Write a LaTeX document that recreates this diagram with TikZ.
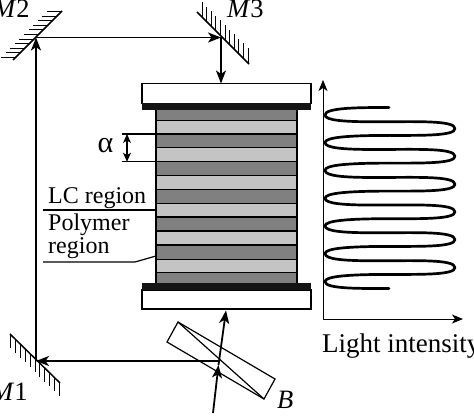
\documentclass[tikz,border=0pt]{standalone}
\usepackage{fontspec}
\setmainfont{Liberation Serif}
\usetikzlibrary{arrows.meta}
\tikzset{
  ray/.style={line width=1.8pt,-{Stealth[length=13pt,width=10pt,inset=3.5pt]}},
  mirrorline/.style={line width=1.5pt},
  hatch/.style={line width=1pt},
  plate/.style={draw=black,line width=1.1pt,fill=white},
  blackbar/.style={fill=black!92},
  darkband/.style={fill=black!50},
  lightband/.style={fill=black!23},
  sep/.style={line width=1.1pt},
  thin line/.style={line width=1.2pt},
  lab/.style={font=\fontsize{24}{24}\selectfont,inner sep=0pt,anchor=base west},
  mlab/.style={lab,font=\fontsize{26.5}{27}\selectfont},
  axisline/.style={line width=1pt,-{Stealth[length=11pt,width=9pt,inset=3pt]}},
  curveline/.style={line width=2.7pt,line cap=round,line join=round},
}
\newcommand{\rdown}[1]{.. controls (325,#1+5.5) and (345,#1+6.8) .. (375,#1+6.8) .. controls (415,#1+6.8) and (455,#1+5) .. (455,#1+13.6) }
\newcommand{\rup}[1]{.. controls (455,#1+7.5) and (420,#1+6.8) .. (390,#1+6.8) .. controls (350,#1+6.8) and (325,#1+8.5) .. (325,#1+14) }
\begin{document}
\begin{tikzpicture}[x=1pt,y=-1pt]
\path[use as bounding box,clip] (0,0) rectangle (474,417);
\fill[white] (0,0) rectangle (474,417);
% named points
\coordinate (m1) at (36,361);
\coordinate (m2) at (36,37.5);
\coordinate (m3) at (221,37.5);
\coordinate (bs) at (220,361);
% plates and stripes
\node[plate,minimum width=169pt,minimum height=20pt,inner sep=0pt] (topplate) at (226.5,93.5) {};
\node[plate,minimum width=169pt,minimum height=19pt,inner sep=0pt] (botplate) at (226.5,299.5) {};
\fill[blackbar] (142,103.5) rectangle (311,110);
\fill[blackbar] (142,283) rectangle (311,290);
\fill[darkband] (156,110) rectangle (297,283);
\foreach \a/\b in {120.7/134,147.7/161.7,175.7/189.3,203.3/217,231/245,259.3/272.7}
  \fill[lightband] (156,\a) rectangle (297,\b);
\foreach \a in {120.7,134,147.7,161.7,175.7,189.3,203.3,217,231,245,259.3,272.7}
  \draw[sep] (156,\a) -- (297,\a);
\draw[sep] (156,110) -- (156,283);
\draw[sep] (297,110) -- (297,283);
% mirrors
\draw[mirrorline] (13,60) -- (62,11);
\foreach \i in {0,...,10}
  \draw[hatch] ({62-4.6*\i},{11.5+4.6*\i}) -- ({47-4.6*\i},{11.5+4.6*\i});
\draw[mirrorline] (197,12) -- (249,64);
\foreach \i in {0,...,10}
  \draw[hatch] ({202+4.6*\i},{17+4.6*\i}) -- ({202+4.6*\i},{2+4.6*\i});
\draw[mirrorline] (10,334) -- (60,383);
\foreach \i in {0,...,10}
  \draw[hatch] ({10.5+4.9*\i},{334.5+4.8*\i}) -- ({10.5+4.9*\i},{348+4.8*\i});
% rays
\coordinate (topin) at (221,83.5);
\draw[ray] (m1) -- (m2);
\draw[ray] (m2) -- (m3);
\draw[ray] (m3) -- (topin);
\draw[ray] (bs) -- (m1);
% beam splitter
\coordinate (b1) at (178,322);
\coordinate (b2) at (167,342);
\coordinate (b3) at (264,399);
\coordinate (b4) at (275,379);
\draw[line width=1.2pt] (b1) -- (b2) -- (b3) -- (b4) -- cycle;
\draw[line width=1.2pt] (b1) -- (b3);
\coordinate (inbeam) at (213,413);
\coordinate (midtip) at (218.5,365);
\coordinate (outtip) at (226,310.5);
\draw[ray] (inbeam) -- (midtip);
\draw[ray] (midtip) -- (outtip);
% alpha dimension
\coordinate (ad1) at (122,134);
\coordinate (ad2) at (122,161.7);
\draw[thin line] (ad1) -- (156,134);
\draw[thin line] (ad2) -- (156,161.7);
\draw[line width=1.1pt,{Stealth[length=9pt,width=8pt,inset=2.5pt]}-{Stealth[length=9pt,width=8pt,inset=2.5pt]}] (127,134) -- (127,161.7);
% leaders
\draw[thin line] (43,210) -- (156,210);
\draw[thin line] (43,262) -- (135,262) -- (156,256);
% labels
\node[lab,font=\fontsize{30}{30}\selectfont] (lalpha) at (97.5,153) {α};
\node[lab] (llc) at (48,203) {LC region};
\node[lab,align=left,font=\fontsize{24}{20}\selectfont] (lpoly) at (48,253) {Polymer\\region};
\node[mlab] (lm2) at (-7,17.5) {\textit{M}2};
\node[mlab] (lm3) at (227,17.5) {\textit{M}3};
\node[mlab] (lm1) at (-9,400) {\textit{M}1};
\node[mlab] (lb) at (277,408) {\textit{B}};
\node[lab,font=\fontsize{27}{27}\selectfont] (llight) at (322,352) {Light intensity};
% axes
\coordinate (origin) at (323,319);
\coordinate (ytip) at (323,80);
\coordinate (xtip) at (463,319);
\draw[axisline] (origin) -- (ytip);
\draw[axisline] (origin) -- (xtip);
% curve
\draw[curveline] (389,107.5) .. controls (360,107.5) and (325,107.5) .. (325,115)
  \rdown{115} \rup{128.6} \rdown{142.7} \rup{156.3} \rdown{170.7} \rup{184.3}
  \rdown{198.3} \rup{211.9} \rdown{226} \rup{239.6} \rdown{254} \rup{267.6}
  .. controls (325,289) and (360,288.5) .. (389,288.5);
\end{tikzpicture}
\end{document}
